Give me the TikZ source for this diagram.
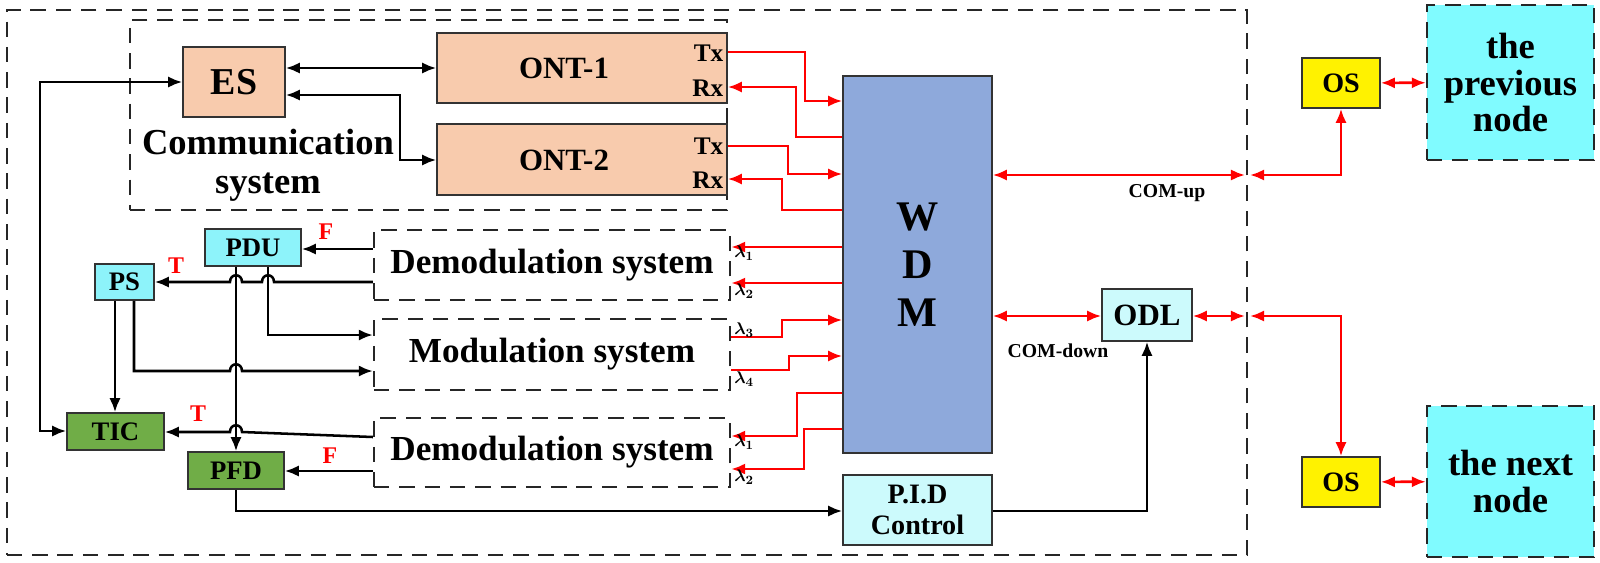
\documentclass[tikz,border=0pt]{standalone}
\usepackage{bm}
\usepackage{fontspec}
\setmainfont{Liberation Serif}
\usetikzlibrary{arrows.meta,positioning}
\definecolor{peach}{HTML}{F8CBAD}
\definecolor{wdmblue}{HTML}{8EA9DB}
\definecolor{skyc}{HTML}{8DF3FA}
\definecolor{palec}{HTML}{CCFAFC}
\definecolor{nodec}{HTML}{80FBFF}
\definecolor{leaf}{HTML}{70AD47}
\newcommand{\fsz}[1]{\fontsize{#1}{#1}\selectfont\bfseries}
\tikzset{
  box/.style={draw=black!80,line width=1.1pt,inner sep=0pt,align=center},
  dbox/.style={draw=black!85,line width=1.6pt,dash pattern=on 11pt off 7pt},
  bline/.style={line width=1.8pt,black},
  rline/.style={line width=1.9pt,red},
  tip/.style={-{Latex[length=10pt,width=8pt]}},
  btip/.style={{Latex[length=10pt,width=8pt]}-{Latex[length=10pt,width=8pt]}},
  redlab/.style={red,font=\fsz{17pt}},
  lam/.style={font=\fsz{13pt},inner sep=0pt}
}
\begin{document}
\begin{tikzpicture}[x=0.025cm,y=-0.025cm]
	\useasboundingbox (0,0) rectangle (1600,562);
	% frames
	\node (outer) at (627,282.5) [dbox,minimum width=31cm,minimum height=13.625cm] {};
	\node (comm) at (428.5,115) [dbox,minimum width=14.925cm,minimum height=4.75cm] {};
	\node (dem1) at (552,265) [dbox,minimum width=8.9cm,minimum height=1.75cm,font=\fsz{25pt}] {Demodulation system};
	\node (mod) at (552,354.5) [dbox,minimum width=8.9cm,minimum height=1.775cm,font=\fsz{25pt}] {Modulation system};
	\node (dem2) at (552,452.5) [dbox,minimum width=8.9cm,minimum height=1.725cm,font=\fsz{25pt}] {Demodulation system};
	
	% communication system
	\node (ES) at (234,82) [box,fill=peach,minimum width=2.55cm,minimum height=1.75cm,font=\fsz{27pt}] {ES};
	\node (ONT1) at (582,68) [box,fill=peach,minimum width=7.25cm,minimum height=1.75cm] {};
	\node (ONT2) at (582,159.5) [box,fill=peach,minimum width=7.25cm,minimum height=1.775cm] {};
	\node (ont1t) at (564,68) [font=\fsz{22pt}] {ONT-1};
	\node (ont2t) at (564,160) [font=\fsz{22pt}] {ONT-2};
	\node (tx1) at (725,53) [anchor=east,inner sep=1pt,font=\fsz{18pt}] {Tx};
	\node (rx1) at (725,88) [anchor=east,inner sep=1pt,font=\fsz{18pt}] {Rx};
	\node (tx2) at (725,146) [anchor=east,inner sep=1pt,font=\fsz{18pt}] {Tx};
	\node (rx2) at (725,180) [anchor=east,inner sep=1pt,font=\fsz{18pt}] {Rx};
	\node (commt) at (268,165) [align=center,font=\fsz{26pt}] {Communication\\[2pt]system};
	
	% control boxes
	\node (PDU) at (253,247.5) [box,fill=skyc,minimum width=2.4cm,minimum height=0.925cm,font=\fsz{19pt}] {PDU};
	\node (PS) at (124.5,282) [box,fill=skyc,minimum width=1.475cm,minimum height=0.9cm,font=\fsz{19pt}] {PS};
	\node (TIC) at (115.5,431.5) [box,fill=leaf,minimum width=2.425cm,minimum height=0.925cm,font=\fsz{19pt}] {TIC};
	\node (PFD) at (236,470.5) [box,fill=leaf,minimum width=2.4cm,minimum height=0.925cm,font=\fsz{19pt}] {PFD};
	
	% WDM side
	\node (WDM) at (917.5,264.5) [box,fill=wdmblue,minimum width=3.725cm,minimum height=9.425cm,font=\fsz{30pt}] {W\\[4pt]D\\[4pt]M};
	\node (PID) at (917.5,510) [box,fill=palec,minimum width=3.725cm,minimum height=1.75cm,font=\fsz{20pt}] {P.I.D\\[2pt]Control};
	\node (ODL) at (1147,315) [box,fill=palec,minimum width=2.25cm,minimum height=1.3cm,font=\fsz{22pt}] {ODL};
	\node (OS1) at (1341,83) [box,fill=yellow,minimum width=1.95cm,minimum height=1.25cm,font=\fsz{20pt}] {OS};
	\node (OS2) at (1341,482) [box,fill=yellow,minimum width=1.95cm,minimum height=1.25cm,font=\fsz{20pt}] {OS};
	\node (prev) at (1510.5,82.5) [dbox,fill=nodec,minimum width=4.175cm,minimum height=3.875cm,align=center,font=\fsz{26pt}] {the\\previous\\node};
	\node (next) at (1510.5,481.5) [dbox,fill=nodec,minimum width=4.175cm,minimum height=3.775cm,align=center,font=\fsz{26pt}] {the next\\node};
	\node (cup) at (1167,193) [font=\fsz{14pt}] {COM-up};
	\node (cdown) at (1058,351) [font=\fsz{14pt}] {COM-down};
	\coordinate (upL) at (1245,175);
	\coordinate (upR) at (1250,175);
	\coordinate (dnL) at (1245,316);
	\coordinate (dnR) at (1250,316);
	
	% red optical links
	\draw[rline,tip] (ONT1.east |- 0,52) -| (805,101) -- (WDM.west |- 0,101);
	\draw[rline,tip] (WDM.west |- 0,137) -| (796,87) -- (ONT1.east |- 0,87);
	\draw[rline,tip] (ONT2.east |- 0,146) -| (788,174) -- (WDM.west |- 0,174);
	\draw[rline,tip] (WDM.west |- 0,210) -| (782,179) -- (ONT2.east |- 0,179);
	\draw[rline,tip] (WDM.west |- 0,247) -- (dem1.east |- 0,247);
	\draw[rline,tip] (WDM.west |- 0,283) -- (dem1.east |- 0,283);
	\draw[rline,tip] (mod.east |- 0,337) -| (782,320) -- (WDM.west |- 0,320);
	\draw[rline,tip] (mod.east |- 0,370) -| (789,356) -- (WDM.west |- 0,356);
	\draw[rline,tip] (WDM.west |- 0,393) -| (797,436) -- (dem2.east |- 0,436);
	\draw[rline,tip] (WDM.west |- 0,429) -| (804,469) -- (dem2.east |- 0,469);
	\node (l1) at (744,253) [lam] {$\bm{\lambda_1}$};
	\node (l2) at (744,291) [lam] {$\bm{\lambda_2}$};
	\node (l3) at (744,330) [lam] {$\bm{\lambda_3}$};
	\node (l4) at (744,379) [lam] {$\bm{\lambda_4}$};
	\node (l5) at (744,442) [lam] {$\bm{\lambda_1}$};
	\node (l6) at (744,477) [lam] {$\bm{\lambda_2}$};
	\draw[rline,btip] (WDM.east |- 0,175) -- (upL);
	\draw[rline,btip] (upR) -| (OS1.south);
	\draw[rline,btip] (WDM.east |- 0,316) -- (ODL.west |- 0,316);
	\draw[rline,btip] (ODL.east |- 0,316) -- (dnL);
	\draw[rline,btip] (dnR) -| (OS2.north);
	\draw[rline,btip] (OS1) -- (prev);
	\draw[rline,btip] (OS2) -- (next);
	
	% black control links
	\draw[bline,btip] (ES.east |- 0,68) -- (ONT1.west |- 0,68);
	\draw[bline,btip] (ES.east |- 0,95) -| (400,160) -- (ONT2.west |- 0,160);
	\draw[bline,btip] (ES.west |- 0,82) -| (40,431) -- (TIC.west |- 0,431);
	\draw[bline,tip] (dem1.west |- 0,249) -- (PDU.east |- 0,249);
	\draw[bline,tip] (dem1.west |- 0,282) -- (274,282) .. controls (274,273) and (262,273) .. (262,282)
		-- (242,282) .. controls (242,273) and (230,273) .. (230,282) -- (PS.east |- 0,282);
	\draw[bline,tip] (PDU.south -| 236,0) -- (PFD.north -| 236,0);
	\draw[bline,tip] (PDU.south -| 268,0) |- (mod.west |- 0,335);
	\draw[bline,tip] (PS.south -| 115,0) -- (TIC.north -| 115,0);
	\draw[bline,tip] (PS.south -| 134,0) -- (134,371) -- (230,371) .. controls (230,362) and (242,362) .. (242,371) -- (mod.west |- 0,371);
	\draw[bline,tip] (dem2.west |- 0,437) -- (242,432) .. controls (242,423) and (230,423) .. (230,432) -- (TIC.east |- 0,432);
	\draw[bline,tip] (dem2.west |- 0,471) -- (PFD.east |- 0,471);
	\draw[bline,tip] (PFD.south) |- (PID.west |- 0,511);
	\draw[bline,tip] (PID.east |- 0,511) -| (ODL.south);
	\node (fa) at (326,232) [redlab] {F};
	\node (ta) at (176,266) [redlab] {T};
	\node (tb) at (198,414) [redlab] {T};
	\node (fb) at (330,456) [redlab] {F};
\end{tikzpicture}
\end{document}
